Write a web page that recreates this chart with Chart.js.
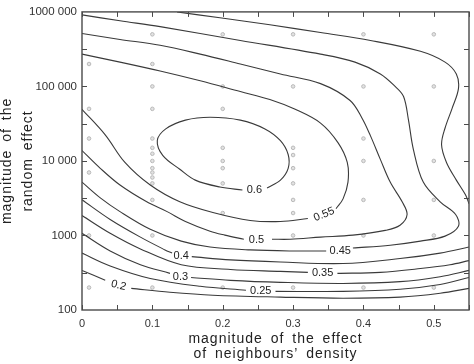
<!DOCTYPE html>
<html>
<head>
<meta charset="utf-8">
<script src="https://cdn.jsdelivr.net/npm/chart.js@4"></script>
<style>
  html, body { margin: 0; padding: 0; background: #fff; }
</style>
</head>
<body>
<canvas id="contourChart" width="474" height="364"></canvas>
<script>
const xTicks = [0, 0.1, 0.2, 0.3, 0.4, 0.5];
const xTickLabels = ['0', '0.1', '0.2', '0.3', '0.4', '0.5'];
const yTicks = [100, 1000, 10000, 100000, 1000000];
const yTickLabels = ['100', '1000', '10 000', '100 000', '1000 000'];

// contour lines as [effect, magnitude] pieces, split where the level label sits
const level60 = [
  [[0.263, 4340], [0.282, 5530], [0.293, 7960], [0.293, 12200], [0.282, 18700], [0.260, 26900], [0.225, 35300], [0.182, 38600], [0.147, 35300], [0.119, 26900], [0.107, 18700], [0.115, 11800], [0.139, 7730], [0.161, 5530], [0.196, 4470], [0.228, 4070]]
];
const level55 = [
  [[0, 271000], [0.054, 212000], [0.111, 161000], [0.168, 119000], [0.225, 85300], [0.267, 66800], [0.303, 49300], [0.339, 32200], [0.364, 17500], [0.377, 9550], [0.378, 5200], [0.371, 3100], [0.361, 2290]],
  [[0.321, 1690], [0.282, 1540], [0.239, 1590], [0.186, 2030], [0.139, 2830], [0.097, 4750], [0.061, 9550], [0.033, 22400], [0, 49300]]
];
const level50 = [
  [[0, 513000], [0.054, 427000], [0.111, 356000], [0.168, 271000], [0.225, 200000], [0.282, 147000], [0.339, 109000], [0.381, 64800], [0.398, 37500], [0.410, 21700], [0.424, 10500], [0.438, 5200], [0.455, 2830], [0.462, 1910], [0.452, 1370], [0.431, 1170], [0.385, 1010], [0.339, 950], [0.296, 890], [0.270, 890]],
  [[0.230, 890], [0.203, 1010], [0.182, 1140], [0.147, 1540], [0.121, 2090], [0.092, 2830], [0.054, 4750], [0.026, 7960], [0, 13800]]
];
const level45 = [
  [[0, 912000], [0.054, 760000], [0.111, 634000], [0.225, 414000], [0.339, 271000], [0.388, 212000], [0.424, 147000], [0.445, 100000], [0.457, 73300], [0.464, 35300], [0.471, 14200], [0.485, 5200], [0.509, 2830], [0.531, 1910], [0.535, 1330], [0.516, 980], [0.481, 840], [0.438, 740], [0.385, 680]],
  [[0.347, 620], [0.296, 620], [0.239, 640], [0.182, 700], [0.141, 840], [0.097, 1210], [0.054, 2090], [0.026, 3200], [0, 5200]]
];
const level40 = [
  [[0.135, 1000000], [0.196, 834000], [0.267, 673000], [0.339, 528000], [0.410, 414000], [0.481, 296000], [0.516, 212000], [0.532, 147000], [0.535, 93300], [0.526, 50800], [0.516, 27700], [0.511, 16500], [0.518, 9550], [0.532, 5530], [0.545, 3510], [0.55, 2670]],
  [[0, 3010], [0.040, 1640], [0.083, 950], [0.118, 640], [0.128, 580]],
  [[0.156, 520], [0.211, 470], [0.282, 440], [0.371, 420], [0.452, 490], [0.509, 580], [0.55, 700]]
];
const level35 = [
  [[0, 1850], [0.040, 1070], [0.083, 660], [0.141, 405], [0.211, 350], [0.282, 330], [0.321, 320]],
  [[0.363, 310], [0.424, 320], [0.481, 360], [0.523, 405], [0.55, 460]]
];
const level30 = [
  [[0, 1070], [0.040, 620], [0.083, 405], [0.125, 310]],
  [[0.155, 273], [0.211, 250], [0.282, 235], [0.371, 227], [0.452, 240], [0.509, 280], [0.55, 340]]
];
const level25 = [
  [[0, 580], [0.040, 390], [0.097, 265], [0.168, 208], [0.233, 184]],
  [[0.275, 178], [0.371, 178], [0.452, 190], [0.509, 220], [0.55, 273]]
];
const level20 = [
  [[0, 340], [0.033, 250]],
  [[0.070, 195], [0.125, 173], [0.186, 158], [0.282, 149], [0.371, 144], [0.452, 149], [0.509, 168], [0.55, 195]]
];

const labelText = ['0.2', '0.25', '0.3', '0.35', '0.4', '0.45', '0.5', '0.55', '0.6'];
const labelX = [0.052, 0.254, 0.140, 0.342, 0.141, 0.367, 0.248, 0.344, 0.245];
const labelY = [214, 178, 281, 310, 530, 620, 865, 1910, 4070];

// simulated parameter combinations (grey symbols)
const sampleX = [0.01, 0.1, 0.2, 0.3, 0.4, 0.5];
const sampleY = [
  [200000, 50000, 20000, 7000, 1000, 200],
  [500000, 200000, 100000, 50000, 20000, 15000, 12500, 10000, 8000, 7000, 6000, 5000, 3000, 1000, 200],
  [500000, 100000, 50000, 15000, 10000, 8000, 5000, 2000, 200],
  [500000, 100000, 15000, 12000, 8000, 5000, 3000, 2000, 1000, 200],
  [500000, 100000, 20000, 10000, 3000, 1000, 200],
  [500000, 100000, 10000, 3000, 1000, 200]
];

document.addEventListener('DOMContentLoaded', function () {
  const ctx = document.getElementById('contourChart').getContext('2d');
  const FONT = '"Liberation Sans", Arial, sans-serif';

  const datasets = [];
  [level60, level55, level50, level45, level40, level35, level30, level25, level20].forEach(function (level) {
    level.forEach(function (piece) {
      datasets.push({
        data: piece.map(p => ({ x: p[0], y: p[1] })),
        showLine: true,
        borderColor: '#3a3a3a',
        borderWidth: 1.1,
        pointRadius: 0,
        tension: 0.35,
        fill: false
      });
    });
  });

  const samples = [];
  sampleX.forEach((x, i) => sampleY[i].forEach(y => samples.push({ x: x, y: y })));
  datasets.push({
    data: samples,
    pointRadius: 1.8,
    pointBorderWidth: 1,
    pointBorderColor: '#b9b9b9',
    pointBackgroundColor: '#e2e2e2'
  });

  const decor = {
    id: 'decor',
    afterDatasetsDraw(chart) {
      const c = chart.ctx;
      const a = chart.chartArea;
      const xs = chart.scales.x, ys = chart.scales.y;
      c.save();
      c.strokeStyle = '#4a4a4a';
      c.lineWidth = 1;
      c.beginPath();
      for (let i = 0; i <= 11; i++) {
        const px = Math.round(xs.getPixelForValue(i * 0.05)) + 0.5;
        c.moveTo(px, a.bottom); c.lineTo(px, a.bottom - 5);
        c.moveTo(px, a.top); c.lineTo(px, a.top + 5);
      }
      [316, 1000, 3162, 10000, 31623, 100000, 316228].forEach(function (v) {
        const py = Math.round(ys.getPixelForValue(v)) + 0.5;
        c.moveTo(a.left, py); c.lineTo(a.left + 5, py);
        c.moveTo(a.right, py); c.lineTo(a.right - 5, py);
      });
      c.stroke();
      c.lineWidth = 1.4;
      c.strokeRect(a.left, a.top, a.right - a.left, a.bottom - a.top);

      // level labels
      c.fillStyle = '#222';
      c.font = '11px ' + FONT;
      c.textAlign = 'center';
      c.textBaseline = 'middle';
      const angles = { '0.2': 14, '0.55': -22 };
      labelText.forEach(function (t, i) {
        c.save();
        c.translate(xs.getPixelForValue(labelX[i]), ys.getPixelForValue(labelY[i]));
        c.rotate((angles[t] || 0) * Math.PI / 180);
        c.fillText(t, 0, 0);
        c.restore();
      });

      // axis titles
      c.font = '14px ' + FONT;
      c.letterSpacing = '1px';
      c.wordSpacing = '3px';
      c.textBaseline = 'alphabetic';
      const cx = (a.left + a.right) / 2;
      c.fillText('magnitude of the effect', cx, 343);
      c.fillText('of neighbours\u2019 density', cx, 357.5);
      c.translate(0, (a.top + a.bottom) / 2);
      c.rotate(-Math.PI / 2);
      c.fillText('magnitude of the', 0, 11);
      c.fillText('random effect', 0, 32);
      c.restore();
    }
  };

  new Chart(ctx, {
    type: 'scatter',
    data: { datasets: datasets },
    options: {
      responsive: false,
      animation: false,
      layout: { padding: { top: 7, right: 5, left: 0, bottom: 0 } },
      plugins: { legend: { display: false }, tooltip: { enabled: false } },
      scales: {
        x: {
          type: 'linear',
          min: 0,
          max: 0.55,
          grid: { display: false, drawTicks: false },
          border: { display: false },
          afterFit: s => { s.height = 54; },
          afterBuildTicks: s => { s.ticks = xTicks.map(v => ({ value: v })); },
          ticks: {
            padding: 7,
            color: '#333',
            font: { family: FONT, size: 11 },
            maxRotation: 0,
            callback: (v, i) => xTickLabels[i]
          }
        },
        y: {
          type: 'logarithmic',
          min: 100,
          max: 1000000,
          grid: { display: false, drawTicks: false },
          border: { display: false },
          afterFit: s => { s.width = 82; },
          afterBuildTicks: s => { s.ticks = yTicks.map(v => ({ value: v })); },
          ticks: {
            padding: 5,
            color: '#333',
            font: { family: FONT, size: 11.5 },
            callback: (v, i) => yTickLabels[i]
          }
        }
      }
    },
    plugins: [decor]
  });
});
</script>
</body>
</html>
